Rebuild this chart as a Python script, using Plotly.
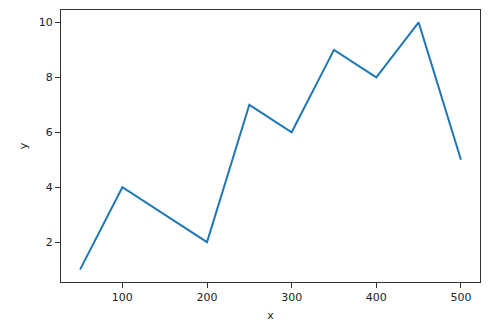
import plotly.graph_objects as go

x_vals = [50, 100, 200, 250, 300, 350, 400, 450, 500]
y_vals = [1, 4, 2, 7, 6, 9, 8, 10, 5]
x_ticks = [100, 200, 300, 400, 500]
y_ticks = [2, 4, 6, 8, 10]

fig = go.Figure()
fig.add_trace(go.Scatter(x=x_vals, y=y_vals, mode="lines",
                         line=dict(color="#1f77b4", width=2)))

axis_common = dict(showline=True, linecolor="#333333", linewidth=1, mirror=True,
                   ticks="outside", ticklen=5, tickwidth=1, tickcolor="#333333",
                   showgrid=False, zeroline=False,
                   tickfont=dict(family="DejaVu Sans", size=11, color="#222222"))

fig.update_xaxes(range=[27.5, 522.5], tickvals=x_ticks,
                 title=dict(text="x", font=dict(family="DejaVu Sans", size=11, color="#222222"), standoff=8),
                 **axis_common)
fig.update_yaxes(range=[0.55, 10.45], tickvals=y_ticks,
                 title=dict(text="y", font=dict(family="DejaVu Sans", size=11, color="#222222"), standoff=8),
                 **axis_common)

fig.update_layout(width=497, height=331, margin=dict(l=61, r=17, t=10, b=49),
                  plot_bgcolor="white", paper_bgcolor="white", showlegend=False)

fig.write_html("out.html")
